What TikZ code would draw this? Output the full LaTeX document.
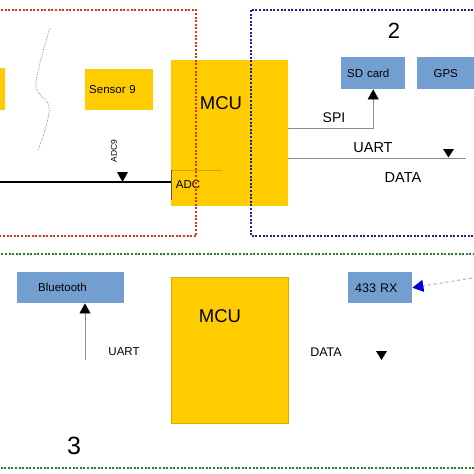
\documentclass[tikz,border=0pt]{standalone}
\usepackage{fontspec}
\setmainfont{Liberation Sans}
\usetikzlibrary{arrows.meta}
\definecolor{mcuyellow}{HTML}{FFCC00}
\definecolor{boxblue}{HTML}{729FCF}
\definecolor{wiregray}{HTML}{8C8C8C}
\definecolor{zonered}{HTML}{E0341E}
\definecolor{zoneblue}{HTML}{1E1EA0}
\definecolor{zonegreen}{HTML}{2E7D2E}

\begin{document}
\begin{tikzpicture}[
    x=1pt, y=-1pt,
    block/.style={fill=mcuyellow, inner sep=0pt, anchor=north west},
    module/.style={fill=boxblue, anchor=north west, align=left, inner ysep=0pt, font=\fontsize{11.5}{13}\selectfont},
    wire/.style={draw=wiregray, line width=0.8pt},
    tip/.style={-{Triangle[width=11pt,length=10pt,black]}},
    zone/.style={line width=2pt, dash pattern=on 2pt off 1.6pt},
    label/.style={inner sep=0pt, font=\fontsize{#1}{#1}\selectfont}
]
    \useasboundingbox (0,0) rectangle (474,474);

    % Section 1: sensors
    \node[block, anchor=north east, minimum width=10pt, minimum height=42pt] (sensor8) at (5,68) {};
    \draw[gray, densely dotted, line width=0.7pt] plot[smooth] coordinates {(50,28) (42,55) (36,87) (49,106) (45,130) (38,150)};
    \node[block, minimum width=68pt, minimum height=41pt, align=left, text width=60pt, inner xsep=4pt,
          font=\fontsize{11.5}{13}\selectfont] (sensor9) at (85,69) {Sensor 9};

    % MCU (top)
    \node[block, minimum width=117pt, minimum height=146pt] (mcuA) at (171,60) {};
    \node[label=18.5] (mcuAtext) at (221,103) {MCU};
    \draw[draw=mcuyellow!80!black, line width=0.6pt] (222,170) -- (171,170);
    \draw[draw=gray!70!black, line width=0.6pt] (171,170) -- (171,200);
    \node[label=11.5] (adc) at (188,185) {ADC};

    % ADC line
    \coordinate (adcin) at (-2,182);
    \draw[line width=1.6pt] (adcin) -- (mcuA.west |- adcin);
    \fill (117,172) -- (128,172) -- (122.5,182) -- cycle;
    \node[label=8.5, rotate=90] (adc9) at (114,151) {ADC9};

    % Section 2: storage
    \node[label=22] (two) at (394,31) {2};
    \node[module, text width=52pt, inner xsep=6pt, minimum height=32pt] (sd) at (341,57) {SD card};
    \node[module, text width=57pt, inner xsep=0pt, minimum height=32pt, align=center] (gps) at (417,57) {GPS};
    \draw[wire, tip] ([yshift=5pt]mcuA.east) -| (sd.south);
    \node[label=14] (spi) at (334,118) {SPI};

    \coordinate (uartend) at (466,158);
    \draw[wire] (mcuA.east |- uartend) -- (uartend);
    \fill (443,149) -- (454,149) -- (448.5,157.5) -- cycle;
    \node[label=14.5] (uartA) at (373,148) {UART};
    \node[label=14.5] (dataA) at (403,178) {DATA};

    % Section 3: radio
    \node[module, text width=65pt, inner xsep=21pt, minimum height=31pt] (bt) at (17,272) {Bluetooth};
    \coordinate (btsrc) at (85,360);
    \draw[wire, tip] (btsrc) -- (btsrc |- bt.south);
    \node[label=11.5] (uartB) at (124,352) {UART};

    \node[block, minimum width=117pt, minimum height=146pt, draw=mcuyellow!85!black, line width=0.6pt] (mcuB) at (171,277) {};
    \node[label=18.5] (mcuBtext) at (220,316) {MCU};

    \node[module, text width=50pt, inner xsep=7pt, minimum height=31pt, font=\fontsize{12.5}{14}\selectfont] (rx) at (348,272) {433 RX};
    \coordinate (rfsrc) at (478,277);
    \draw[draw=blue!40!gray!60, dashed, line width=0.8pt, -{Triangle[width=12pt,length=11pt,blue!85!black]}] (rfsrc) -- (rx.east);

    \node[label=12.5] (dataB) at (326,352) {DATA};
    \fill (376,351) -- (387,351) -- (381.5,360) -- cycle;
    \node[label=25] (three) at (74,446) {3};

    % Zones
    \draw[zone, zonered] (-5,10) rectangle (196,236);
    \draw[zone, zoneblue] (251,10) rectangle (480,236);
    \draw[zone, zonegreen] (-5,254) rectangle (480,468);
\end{tikzpicture}
\end{document}
